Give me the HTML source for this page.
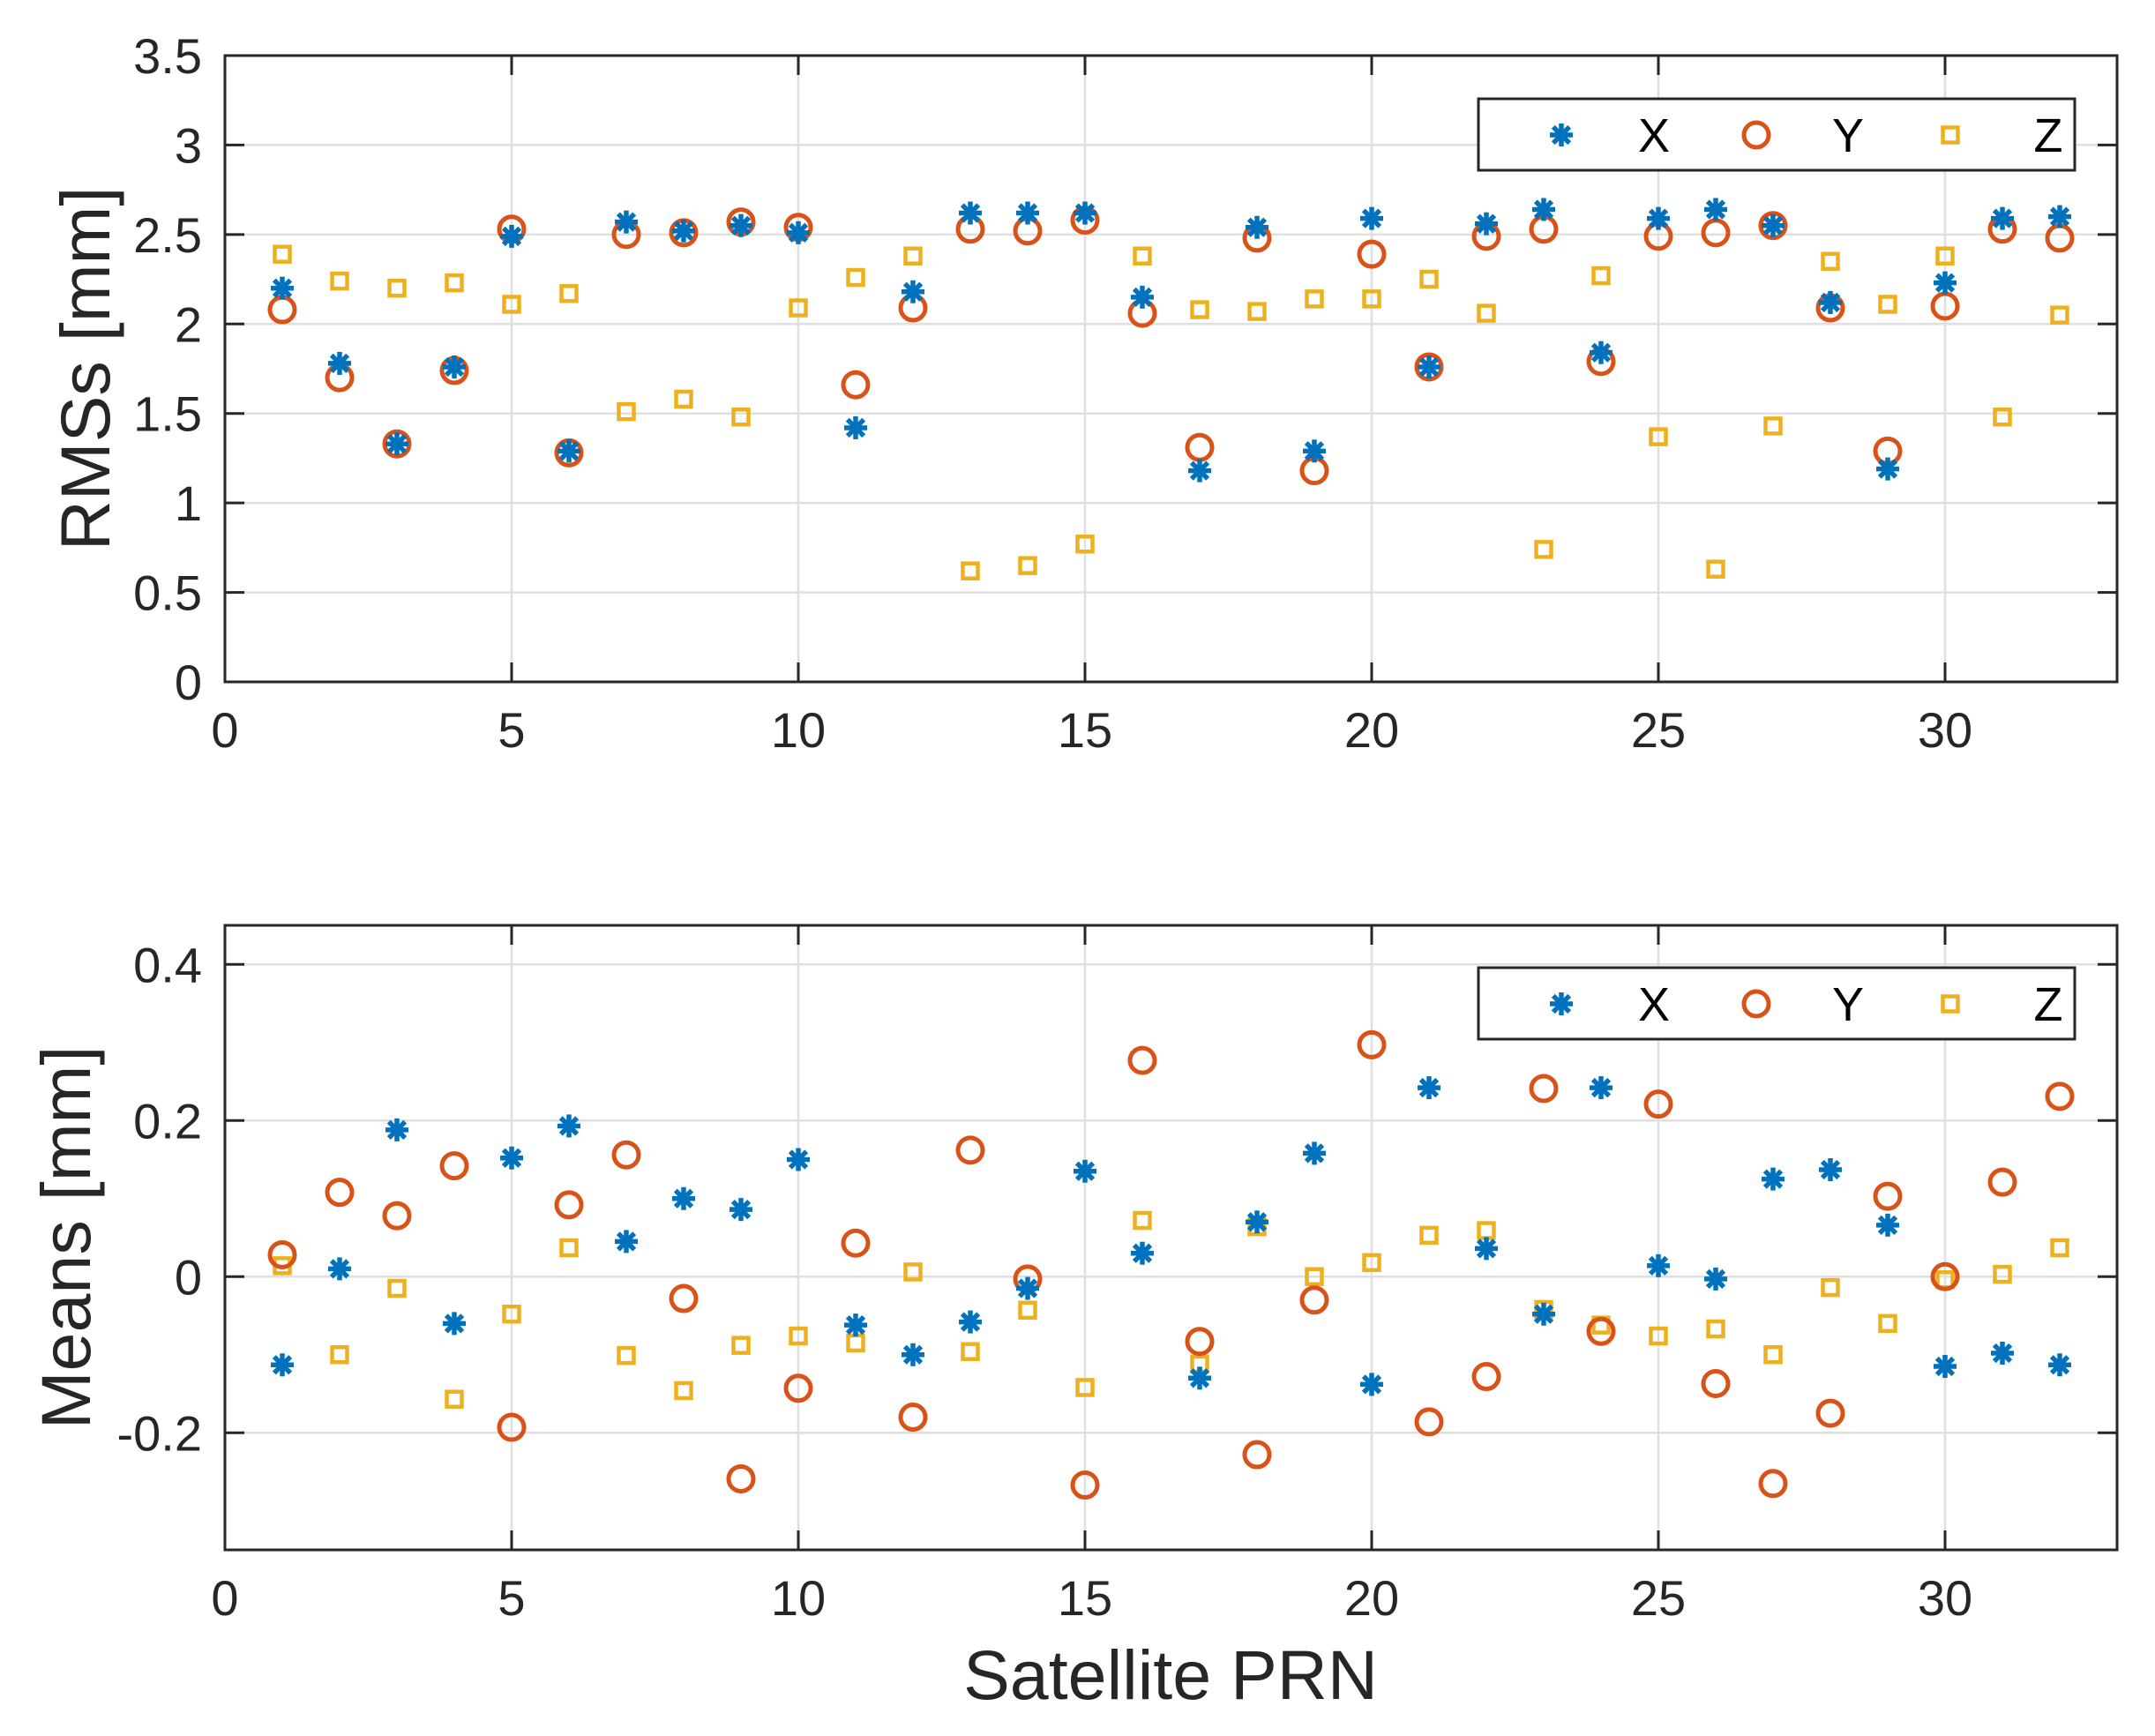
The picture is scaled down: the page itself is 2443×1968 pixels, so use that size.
<!DOCTYPE html>
<html><head><meta charset="utf-8"><style>
html,body{margin:0;padding:0;background:#fff;}
svg{display:block;font-family:"Liberation Sans",Arial,sans-serif;}
</style></head><body>
<svg id="s" width="2443" height="1968" xmlns="http://www.w3.org/2000/svg"></svg>
<script>
(function(){
var S=document.getElementById('s');var h='';
var L=255,R=2400;function xs(v){return L+(R-L)*v/33;}
var C={X:'#0072BD',Y:'#D95319',Z:'#EDB120'};
var dTop={X:[2.2,1.78,1.33,1.76,2.49,1.29,2.57,2.52,2.55,2.51,1.42,2.18,2.62,2.62,2.62,2.15,1.18,2.54,1.29,2.59,1.76,2.56,2.64,1.84,2.59,2.64,2.55,2.12,1.19,2.23,2.59,2.60],
Y:[2.08,1.70,1.33,1.74,2.53,1.28,2.50,2.51,2.57,2.54,1.66,2.09,2.53,2.52,2.58,2.06,1.31,2.48,1.18,2.39,1.76,2.49,2.53,1.79,2.49,2.51,2.55,2.09,1.29,2.10,2.53,2.48],
Z:[2.39,2.24,2.20,2.23,2.11,2.17,1.51,1.58,1.48,2.09,2.26,2.38,0.62,0.65,0.77,2.38,2.08,2.07,2.14,2.14,2.25,2.06,0.74,2.27,1.37,0.63,1.43,2.35,2.11,2.38,1.48,2.05]};
var dBot={X:[-0.113,0.01,0.188,-0.06,0.152,0.193,0.045,0.10,0.086,0.150,-0.062,-0.100,-0.058,-0.015,0.135,0.03,-0.13,0.070,0.158,-0.138,0.242,0.036,-0.048,0.242,0.014,-0.003,0.125,0.137,0.066,-0.115,-0.098,-0.113],
Y:[0.028,0.108,0.078,0.142,-0.193,0.092,0.156,-0.028,-0.259,-0.143,0.043,-0.180,0.162,-0.003,-0.267,0.277,-0.083,-0.228,-0.030,0.297,-0.186,-0.128,0.241,-0.070,0.221,-0.137,-0.265,-0.175,0.103,0.0,0.121,0.231],
Z:[0.014,-0.10,-0.015,-0.157,-0.048,0.037,-0.101,-0.146,-0.088,-0.076,-0.085,0.006,-0.096,-0.043,-0.142,0.072,-0.112,0.064,0.0,0.018,0.053,0.059,-0.042,-0.062,-0.076,-0.067,-0.100,-0.014,-0.060,-0.004,0.003,0.037]};
function mk(k,x,y){
 if(k=='X'){var r=13,d=9.2;return '<g stroke="'+C.X+'" stroke-width="5.5"><line x1="'+(x-r)+'" y1="'+y+'" x2="'+(x+r)+'" y2="'+y+'"/><line x1="'+x+'" y1="'+(y-r)+'" x2="'+x+'" y2="'+(y+r)+'"/><line x1="'+(x-d)+'" y1="'+(y-d)+'" x2="'+(x+d)+'" y2="'+(y+d)+'"/><line x1="'+(x-d)+'" y1="'+(y+d)+'" x2="'+(x+d)+'" y2="'+(y-d)+'"/></g>';}
 if(k=='Y')return '<circle cx="'+x+'" cy="'+y+'" r="14" fill="none" stroke="'+C.Y+'" stroke-width="5"/>';
 return '<rect x="'+(x-8.5)+'" y="'+(y-8.5)+'" width="17" height="17" fill="none" stroke="'+C.Z+'" stroke-width="4.5"/>';
}
function axes(T,B,y0,y1,ticks,fmt,data,ylab,lt){
 function ys(v){return B-(B-T)*(v-y0)/(y1-y0);}
 var i;
 for(i=5;i<33;i+=5)h+='<line x1="'+xs(i)+'" y1="'+T+'" x2="'+xs(i)+'" y2="'+B+'" stroke="#dfdfdf" stroke-width="2.5"/>';
 ticks.forEach(function(t){var y=ys(t);if(y>T+2&&y<B-2)h+='<line x1="'+L+'" y1="'+y+'" x2="'+R+'" y2="'+y+'" stroke="#dfdfdf" stroke-width="2.5"/>';});
 for(i=0;i<33;i+=5){var x=xs(i);h+='<line x1="'+x+'" y1="'+B+'" x2="'+x+'" y2="'+(B-22)+'" stroke="#262626" stroke-width="3"/><line x1="'+x+'" y1="'+T+'" x2="'+x+'" y2="'+(T+22)+'" stroke="#262626" stroke-width="3"/><text x="'+x+'" y="'+(B+74)+'" font-size="56" text-anchor="middle" fill="#262626">'+i+'</text>';}
 ticks.forEach(function(t){var y=ys(t);h+='<line x1="'+L+'" y1="'+y+'" x2="'+(L+22)+'" y2="'+y+'" stroke="#262626" stroke-width="3"/><line x1="'+R+'" y1="'+y+'" x2="'+(R-22)+'" y2="'+y+'" stroke="#262626" stroke-width="3"/><text x="'+(L-26)+'" y="'+(y+20)+'" font-size="56" text-anchor="end" fill="#262626">'+fmt(t)+'</text>';});
 ['Z','Y','X'].forEach(function(k){data[k].forEach(function(v,j){h+=mk(k,xs(j+1),ys(v));});});
 h+='<rect x="'+L+'" y="'+T+'" width="'+(R-L)+'" height="'+(B-T)+'" fill="none" stroke="#262626" stroke-width="3"/>';
 var lc=lt+41;
 h+='<rect x="1676" y="'+lt+'" width="676" height="81" fill="#fff" stroke="#262626" stroke-width="3"/>';
 h+=mk('X',1770,lc)+mk('Y',1991,lc)+mk('Z',2211,lc);
 [['X',1875],['Y',2095],['Z',2322]].forEach(function(a){h+='<text x="'+a[1]+'" y="'+(lc+19)+'" font-size="54" text-anchor="middle" fill="#000">'+a[0]+'</text>';});
 h+='<text transform="translate('+ylab[0]+','+((T+B)/2)+') rotate(-90)" font-size="79" text-anchor="middle" fill="#262626">'+ylab[1]+'</text>';
}
axes(63,773,0,3.5,[0,0.5,1,1.5,2,2.5,3,3.5],function(t){return String(t);},dTop,[124,'RMSs [mm]'],112);
axes(1049,1757,-0.35,0.45,[-0.2,0,0.2,0.4],function(t){return t==0?'0':t.toFixed(1);},dBot,[102,'Means [mm]'],1097);
h+='<text x="1327" y="1926" font-size="79" text-anchor="middle" fill="#262626">Satellite PRN</text>';
S.innerHTML=h;
})();
</script>
</body></html>
